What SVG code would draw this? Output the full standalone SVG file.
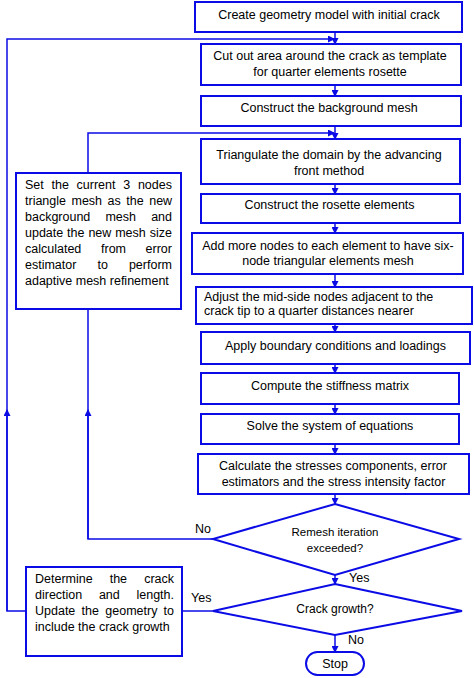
<svg xmlns="http://www.w3.org/2000/svg" width="474" height="678" viewBox="0 0 474 678">
<style>
.b{fill:#fff;stroke:#0b0be6;stroke-width:2}
.c{fill:none;stroke:#0b0be6;stroke-width:1.5}
text{font-family:"Liberation Sans",Arial,sans-serif;font-size:12.5px;fill:#000}
.m{text-anchor:middle}
.e{text-anchor:end}
.s{font-size:11.5px}
</style>
<defs>
<marker id="a" markerWidth="7" markerHeight="7" refX="6" refY="3.5" orient="auto" markerUnits="userSpaceOnUse">
<path d="M0,0 L7,3.5 L0,7 z" fill="#0b0be6"/>
</marker>
</defs>
<rect width="474" height="678" fill="#fff"/>
<g id="connectors">
<path class="c" d="M335,32 V44" marker-end="url(#a)"/>
<path class="c" d="M26,611 H7 V39 H334" marker-end="url(#a)"/>
<path class="c" d="M7,611 V410" marker-end="url(#a)"/>
<path class="c" d="M335,85 V96" marker-end="url(#a)"/>
<path class="c" d="M335,126 V139" marker-end="url(#a)"/>
<path class="c" d="M88,173 V133 H334" marker-end="url(#a)"/>
<path class="c" d="M335,184 V194" marker-end="url(#a)"/>
<path class="c" d="M335,223 V233" marker-end="url(#a)"/>
<path class="c" d="M335,274 V287" marker-end="url(#a)"/>
<path class="c" d="M335,324 V332" marker-end="url(#a)"/>
<path class="c" d="M335,364 V373" marker-end="url(#a)"/>
<path class="c" d="M335,404 V414" marker-end="url(#a)"/>
<path class="c" d="M335,444 V454" marker-end="url(#a)"/>
<path class="c" d="M335,494 V504" marker-end="url(#a)"/>
<path class="c" d="M213,539 H88 V309"/>
<path class="c" d="M88,539 V410" marker-end="url(#a)"/>
<path class="c" d="M335,575 V584" marker-end="url(#a)"/>
<path class="c" d="M213,611 H182"/>
<path class="c" d="M335,635 V652" marker-end="url(#a)"/>
<text x="195" y="533">No</text>
<text x="349" y="582">Yes</text>
<text x="191" y="602">Yes</text>
<text x="348" y="644">No</text>
</g>
<g id="n1"><rect class="b" x="195" y="2" width="267" height="30"/><text class="m" x="329" y="18.5">Create geometry model with initial crack</text></g>
<g id="n2"><rect class="b" x="201" y="44" width="260" height="41"/><text class="m" x="330" y="59.5">Cut out area around the crack as template</text><text class="m" x="330" y="76">for quarter elements rosette</text></g>
<g id="n3"><rect class="b" x="201" y="96" width="260" height="30"/><text class="m" x="329" y="111.5">Construct the background mesh</text></g>
<g id="n4"><rect class="b" x="201" y="139" width="259" height="45"/><text class="m" x="329" y="159">Triangulate the domain by the advancing</text><text class="m" x="329" y="175">front method</text></g>
<g id="n5"><rect class="b" x="201" y="194" width="259" height="29"/><text class="m" x="329.5" y="209">Construct the rosette elements</text></g>
<g id="n6"><rect class="b" x="192" y="233" width="271" height="41"/><text class="m" x="328" y="250">Add more nodes to each element to have six-</text><text class="m" x="328" y="265">node triangular elements mesh</text></g>
<g id="n7"><rect class="b" x="196" y="287" width="276" height="37"/><text x="204" y="300.5">Adjust the mid-side nodes adjacent to the</text><text x="204" y="315">crack tip to a quarter distances nearer</text></g>
<g id="n8"><rect class="b" x="201" y="332" width="269" height="32"/><text class="m" x="335.5" y="349.5">Apply boundary conditions and loadings</text></g>
<g id="n9"><rect class="b" x="201" y="373" width="258" height="31"/><text class="m" x="330" y="389.5">Compute the stiffness matrix</text></g>
<g id="n10"><rect class="b" x="201" y="414" width="258" height="30"/><text class="m" x="330" y="429.5">Solve the system of equations</text></g>
<g id="n11"><rect class="b" x="198" y="454" width="271" height="40"/><text class="m" x="333" y="470">Calculate the stresses components, error</text><text class="m" x="333.5" y="486">estimators and the stress intensity factor</text></g>
<g id="d1"><polygon class="b" points="335,504 459,539 335,575 213,539"/><text class="m s" x="335" y="535.5">Remesh iteration</text><text class="m s" x="335" y="551.5">exceeded?</text></g>
<g id="d2"><polygon class="b" points="335,584 462,611 335,635 213,611"/><text class="m" x="335" y="612.5" style="font-size:12px">Crack growth?</text></g>
<g id="stop"><rect class="b" x="306" y="652" width="58" height="23" rx="11.5"/><text class="m" x="335" y="667.5">Stop</text></g>
<g id="l1"><rect class="b" x="16" y="173" width="165" height="136"/>
<text y="189"><tspan x="25">Set</tspan><tspan x="51.5">the</tspan><tspan x="76.6">current</tspan><tspan x="123.2">3</tspan><tspan x="137.9">nodes</tspan></text>
<text y="205"><tspan x="25">triangle</tspan><tspan x="71.5">mesh</tspan><tspan x="107.6">as</tspan><tspan x="126.3">the</tspan><tspan x="149.2">new</tspan></text>
<text y="221"><tspan x="25">background</tspan><tspan x="105.4">mesh</tspan></text><text class="e" x="172" y="221">and</text>
<text y="237"><tspan x="25">update</tspan><tspan x="67.1">the</tspan><tspan x="88.4">new</tspan><tspan x="115.2">mesh</tspan></text><text class="e" x="172" y="237">size</text>
<text y="253"><tspan x="25">calculated</tspan><tspan x="101">from</tspan></text><text class="e" x="172" y="253">error</text>
<text y="269"><tspan x="25">estimator</tspan><tspan x="97.5">to</tspan></text><text class="e" x="172" y="269">perform</text>
<text x="25" y="285">adaptive mesh refinement</text>
</g>
<g id="l2"><rect class="b" x="26" y="567" width="156" height="89"/>
<text y="582.5"><tspan x="35">Determine</tspan><tspan x="109.7">the</tspan></text><text class="e" x="174" y="582.5">crack</text>
<text y="598.5"><tspan x="35">direction</tspan><tspan x="98.9">and</tspan></text><text class="e" x="174" y="598.5">length.</text>
<text y="614.5"><tspan x="35">Update</tspan><tspan x="81.6">the</tspan><tspan x="105.3">geometry</tspan></text><text class="e" x="174" y="614.5">to</text>
<text x="35" y="630.5">include the crack growth</text>
</g>
</svg>
